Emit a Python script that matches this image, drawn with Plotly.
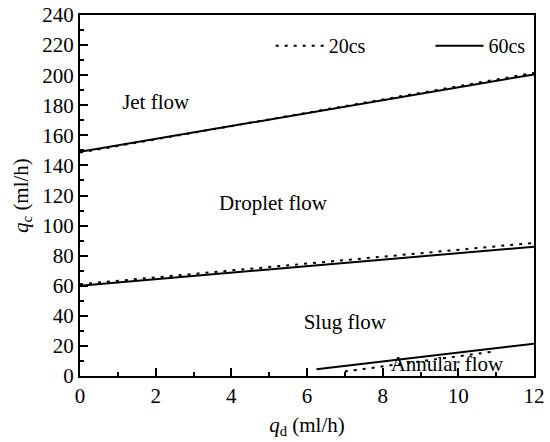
import plotly.graph_objects as go

# boundary lines (qd, qc)
jet_qd = [0, 12]
jet_20cs = [148.5, 201.5]
jet_60cs = [149.0, 200.5]

slug_qd = [0, 12]
slug_20cs = [61.0, 88.5]
slug_60cs = [60.0, 86.0]

ann_qd_20cs = [7.0, 11.0]
ann_20cs = [3.0, 16.5]
ann_qd_60cs = [6.25, 12.0]
ann_60cs = [4.5, 21.5]

regions = ["Jet flow", "Droplet flow", "Slug flow", "Annular flow"]
region_qd = [2.0, 5.1, 7.0, 9.7]
region_qc = [181, 114, 34.5, 6.5]

FONT = "Liberation Serif, Times New Roman, Times, serif"

fig = go.Figure()


def add_line(x, y, dash, name, show, legend):
    fig.add_trace(
        go.Scatter(
            x=x,
            y=y,
            mode="lines",
            line=dict(color="black", width=2, dash=dash),
            name=name,
            legendgroup=name,
            showlegend=show,
            legend=legend,
        )
    )


add_line(jet_qd, jet_20cs, "3px,6px", "20cs", True, "legend")
add_line(slug_qd, slug_20cs, "3px,6px", "20cs", False, "legend")
add_line(ann_qd_20cs, ann_20cs, "3px,6px", "20cs", False, "legend")
add_line(jet_qd, jet_60cs, "solid", "60cs", True, "legend2")
add_line(slug_qd, slug_60cs, "solid", "60cs", False, "legend2")
add_line(ann_qd_60cs, ann_60cs, "solid", "60cs", False, "legend2")

fig.add_trace(
    go.Scatter(
        x=region_qd,
        y=region_qc,
        mode="text",
        text=regions,
        textfont=dict(family=FONT, size=21, color="black"),
        showlegend=False,
    )
)

axis_common = dict(
    showline=True,
    linecolor="black",
    linewidth=2,
    mirror=True,
    ticks="inside",
    ticklen=8,
    tickwidth=2,
    tickcolor="black",
    showgrid=False,
    zeroline=False,
    automargin=False,
    tickfont=dict(family=FONT, size=21, color="black"),
)

fig.update_xaxes(
    range=[0, 12],
    dtick=2,
    minor=dict(dtick=1, ticks="inside", ticklen=4, tickwidth=2, tickcolor="black"),
    title=dict(text="<i>q</i><sub>d</sub> (ml/h)", font=dict(family=FONT, size=21, color="black"), standoff=10),
    **axis_common,
)
fig.update_yaxes(
    range=[0, 240],
    dtick=20,
    minor=dict(dtick=10, ticks="inside", ticklen=4, tickwidth=2, tickcolor="black"),
    title=dict(text="<i>q</i><sub>c</sub> (ml/h)", font=dict(family=FONT, size=21, color="black"), standoff=8),
    **axis_common,
)

legend_style = dict(
    orientation="h",
    yanchor="middle",
    xanchor="left",
    y=0.915,
    itemwidth=48,
    font=dict(family=FONT, size=20, color="black"),
    bgcolor="rgba(0,0,0,0)",
)

fig.update_layout(
    width=550,
    height=442,
    margin=dict(l=80, r=16, t=15, b=66),
    paper_bgcolor="white",
    plot_bgcolor="white",
    legend=dict(x=0.42, **legend_style),
    legend2=dict(x=0.772, **legend_style),
)

# drop the default 8px page margin so the figure sits at the window corner
fig.write_html(
    "out.html",
    config={"displayModeBar": False},
    post_script="document.body.style.margin='0';",
)
